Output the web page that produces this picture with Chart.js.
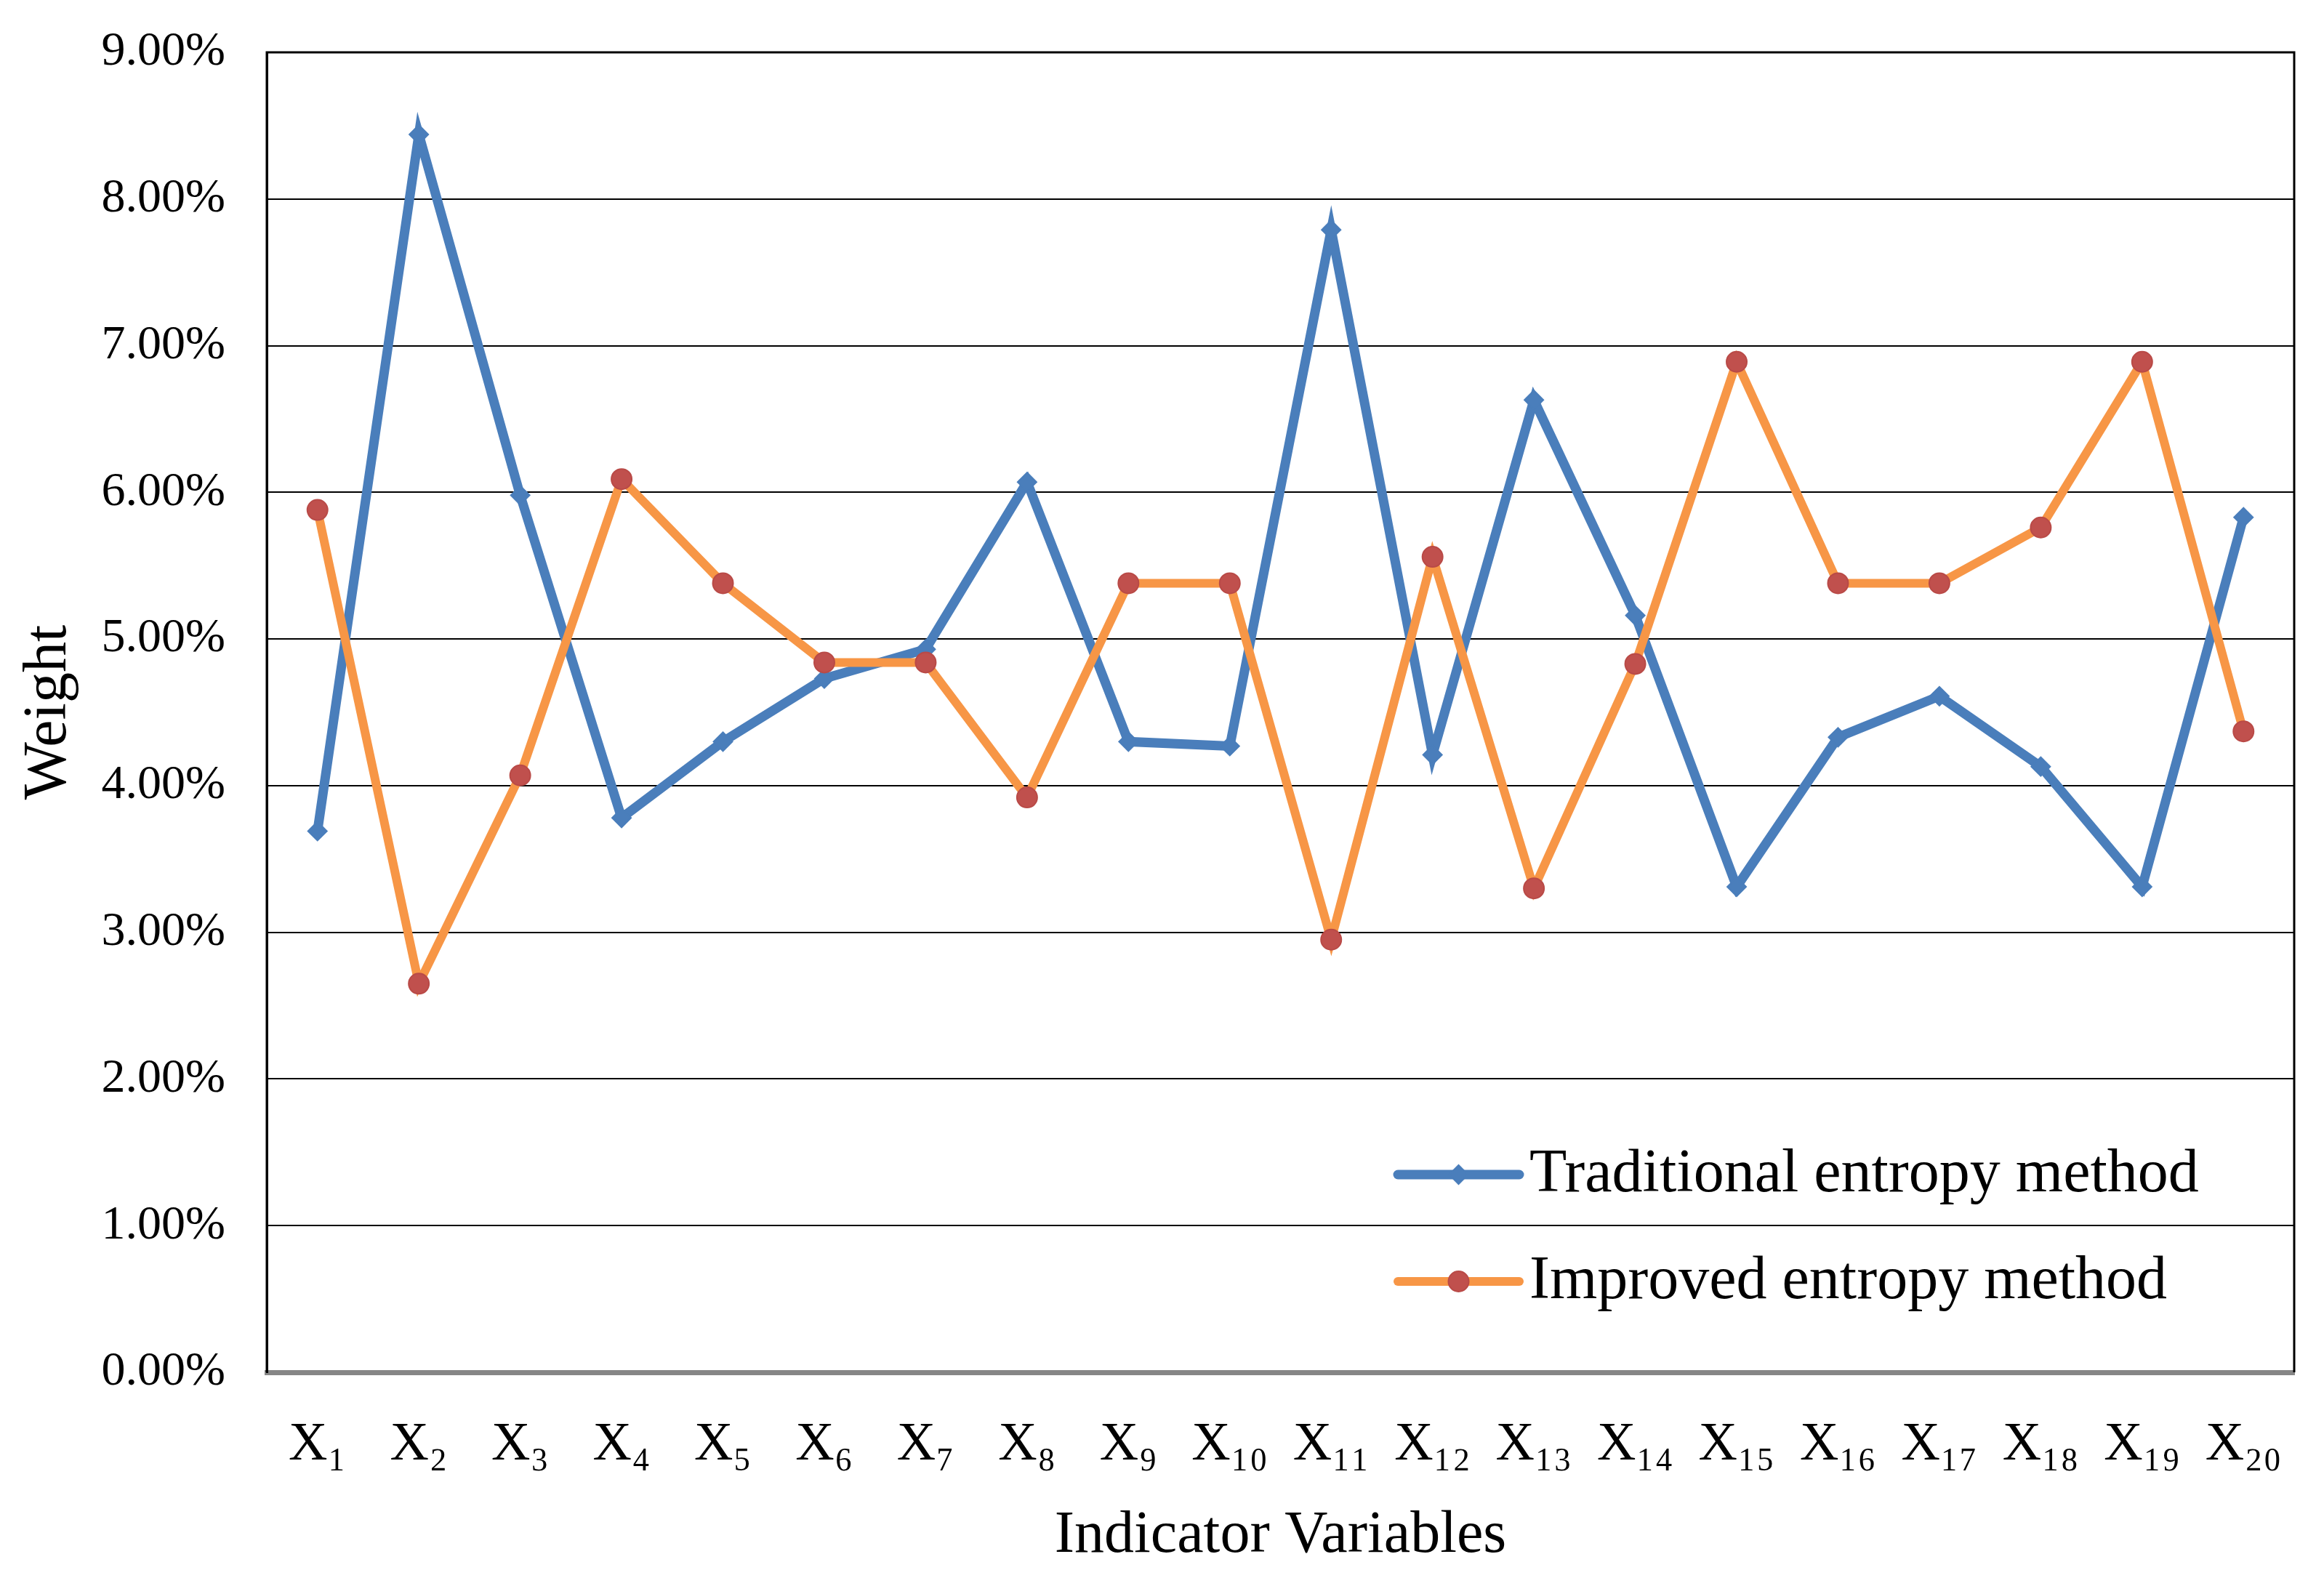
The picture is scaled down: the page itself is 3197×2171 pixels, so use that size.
<!DOCTYPE html>
<html>
<head>
<meta charset="utf-8">
<script src="https://cdn.jsdelivr.net/npm/chart.js@4.4.0/dist/chart.umd.min.js"></script>
<style>
  html, body { margin: 0; padding: 0; background: #fff; }
  #wrap { width: 3197px; height: 2171px; }
</style>
</head>
<body>
<div id="wrap"><canvas id="grafico"></canvas></div>
<script>
var indicadores = ['X\u2081', 'X\u2082', 'X\u2083', 'X\u2084', 'X\u2085', 'X\u2086', 'X\u2087', 'X\u2088', 'X\u2089', 'X\u2081\u2080',
                   'X\u2081\u2081', 'X\u2081\u2082', 'X\u2081\u2083', 'X\u2081\u2084', 'X\u2081\u2085', 'X\u2081\u2086', 'X\u2081\u2087', 'X\u2081\u2088', 'X\u2081\u2089', 'X\u2082\u2080'];
var tradicional = [3.69, 8.44, 5.98, 3.78, 4.30, 4.73, 4.93, 6.07, 4.30, 4.27, 7.79, 4.21, 6.63, 5.16, 3.31, 4.33, 4.61, 4.13, 3.31, 5.83];
var melhorado = [5.88, 2.65, 4.07, 6.09, 5.38, 4.84, 4.84, 3.92, 5.38, 5.38, 2.95, 5.56, 3.30, 4.83, 6.89, 5.38, 5.38, 5.76, 6.89, 4.37];
var nomes = ['Traditional entropy method', 'Improved entropy method'];
var yTicks = [0, 1, 2, 3, 4, 5, 6, 7, 8, 9];

var serif = "'Liberation Serif', 'Times New Roman', serif";

// moldura do grafico (topo, direita, esquerda)
var moldura = {
    id: 'moldura',
    beforeDatasetsDraw: function(chart) {
        var a = chart.chartArea, c = chart.ctx;
        c.save();
        c.strokeStyle = '#000';
        c.lineWidth = 3;
        c.beginPath();
        c.moveTo(a.left, a.bottom);
        c.lineTo(a.left, a.top);
        c.lineTo(a.right, a.top);
        c.lineTo(a.right, a.bottom);
        c.stroke();
        c.restore();
    }
};

// legenda dentro da area do grafico
var legenda = {
    id: 'legenda',
    afterDraw: function(chart) {
        var c = chart.ctx;
        var x0 = 1923, x1 = 2090, tx = 2104;
        var rows = [1616, 1763];
        c.save();
        chart.data.datasets.forEach(function(ds, i) {
            var y = rows[i];
            c.strokeStyle = ds.borderColor;
            c.lineWidth = ds.borderWidth;
            c.lineCap = 'round';
            c.beginPath();
            c.moveTo(x0, y);
            c.lineTo(x1, y);
            c.stroke();
            c.fillStyle = ds.pointBackgroundColor;
            c.strokeStyle = ds.pointBorderColor;
            c.lineWidth = ds.pointBorderWidth;
            Chart.helpers.drawPoint(c, {
                pointStyle: ds.pointStyle,
                radius: ds.pointRadius,
                borderWidth: ds.pointBorderWidth
            }, (x0 + x1) / 2, y);
            c.fillStyle = '#000';
            c.font = '84px ' + serif;
            c.textBaseline = 'alphabetic';
            c.textAlign = 'left';
            c.fillText(ds.label, tx, y + 23);
        });
        c.restore();
    }
};

var ctx = document.getElementById('grafico').getContext('2d');
var myChart = new Chart(ctx, {
    type: 'line',
    data: {
        labels: indicadores,
        datasets: [{
            label: nomes[0],
            data: tradicional,
            borderColor: '#4A7EBB',
            borderWidth: 13,
            pointStyle: 'rectRot',
            pointRadius: 13,
            pointBackgroundColor: '#4A7EBB',
            pointBorderColor: '#4A7EBB',
            pointBorderWidth: 2,
            tension: 0,
            order: 1
        }, {
            label: nomes[1],
            data: melhorado,
            borderColor: '#F79646',
            borderWidth: 12,
            pointStyle: 'circle',
            pointRadius: 14,
            pointBackgroundColor: '#C0504D',
            pointBorderColor: '#B94A47',
            pointBorderWidth: 2,
            tension: 0,
            order: 0
        }]
    },
    options: {
        responsive: true,
        maintainAspectRatio: false,
        animation: false,
        layout: { padding: { top: 72, right: 41, left: 0, bottom: 0 } },
        scales: {
            x: {
                offset: true,
                grid: { display: false, drawTicks: false },
                border: { color: '#868686', width: 7 },
                ticks: {
                    color: '#000',
                    padding: 56,
                    maxRotation: 0,
                    autoSkip: false,
                    font: { family: serif, size: 74 }
                },
                title: {
                    display: true,
                    text: 'Indicator Variables',
                    color: '#000',
                    padding: { top: 0, bottom: 8 },
                    font: { family: serif, size: 82 }
                },
                afterFit: function(s) { s.height = 283; s.paddingLeft = 0; s.paddingRight = 0; }
            },
            y: {
                min: 0,
                max: 9,
                afterBuildTicks: function(s) {
                    s.ticks = yTicks.map(function(v) { return { value: v }; });
                },
                grid: {
                    drawTicks: false,
                    lineWidth: 2,
                    color: function(c) { return c.tick && c.tick.value === 0 ? 'rgba(0,0,0,0)' : '#000'; }
                },
                border: { color: '#000', width: 3 },
                ticks: {
                    color: '#000',
                    padding: 57,
                    font: { family: serif, size: 66 },
                    callback: function(v) { return v.toFixed(2) + '%'; }
                },
                title: {
                    display: true,
                    text: 'Weight',
                    color: '#000',
                    padding: { top: 18, bottom: 0 },
                    font: { family: serif, size: 84 }
                },
                afterFit: function(s) { s.width = 367; s.paddingTop = 0; s.paddingBottom = 0; }
            }
        },
        plugins: {
            legend: { display: false },
            tooltip: { enabled: false }
        }
    },
    plugins: [moldura, legenda]
});
</script>
</body>
</html>
